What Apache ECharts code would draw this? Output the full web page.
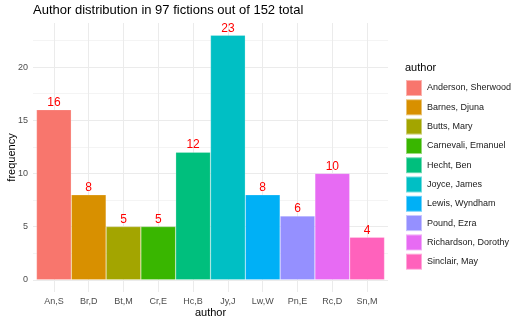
<!DOCTYPE html>
<html>
<head>
<meta charset="utf-8">
<script src="https://cdn.jsdelivr.net/npm/echarts@6/dist/echarts.min.js"></script>
<style>
  html, body { margin: 0; padding: 0; background: #ffffff; }
  #chart { width: 525px; height: 324px; }
</style>
</head>
<body>
<div id="chart"></div>
<script>
// Fiction counts per author
const authors = [
  'Anderson, Sherwood', 'Barnes, Djuna', 'Butts, Mary', 'Carnevali, Emanuel',
  'Hecht, Ben', 'Joyce, James', 'Lewis, Wyndham', 'Pound, Ezra',
  'Richardson, Dorothy', 'Sinclair, May'
];
const shortNames = ['An,S', 'Br,D', 'Bt,M', 'Cr,E', 'Hc,B', 'Jy,J', 'Lw,W', 'Pn,E', 'Rc,D', 'Sn,M'];
const counts = [16, 8, 5, 5, 12, 23, 8, 6, 10, 4];
const palette = ['#F8766D', '#D89000', '#A3A500', '#39B600', '#00BF7D',
                 '#00BFC4', '#00B0F6', '#9590FF', '#E76BF3', '#FF62BC'];
const yMajorTicks = [0, 5, 10, 15, 20];

const FONT = '"Liberation Sans", Arial, sans-serif';
const maxCount = Math.max(...counts);
const yPad = maxCount * 0.05;

function isNear(v, t) { return Math.abs(v - t) < 1e-6; }

const series = authors.map((name, i) => ({
  name: name,
  type: 'bar',
  data: [[i, counts[i]]],
  barWidth: '100%',
  barGap: '-100%',
  itemStyle: { color: palette[i], borderColor: 'rgba(255,255,255,0.45)', borderWidth: 0.5 },
  label: {
    show: true,
    position: 'top',
    distance: 1,
    color: '#ff0000',
    fontFamily: FONT,
    fontSize: 12,
    formatter: (p) => String(p.value[1])
  },
  emphasis: { disabled: true }
}));

const chart = echarts.init(document.getElementById('chart'), null, { renderer: 'canvas' });
chart.setOption({
  animation: false,
  backgroundColor: '#ffffff',
  title: [
    {
      text: 'Author distribution in 97 fictions out of 152 total',
      left: 33, top: 4, padding: 0,
      textStyle: { fontFamily: FONT, fontSize: 13, fontWeight: 'normal', color: '#000000' }
    },
    {
      text: 'author',
      left: 405, top: 62, padding: 0,
      textStyle: { fontFamily: FONT, fontSize: 11, fontWeight: 'normal', color: '#000000' }
    }
  ],
  legend: {
    data: authors,
    orient: 'vertical',
    left: 405, top: 79,
    padding: 0,
    itemWidth: 16, itemHeight: 16, itemGap: 1.3,
    icon: 'rect',
    selectedMode: false,
    textStyle: { fontFamily: FONT, fontSize: 9, color: '#1a1a1a' }
  },
  grid: { left: 33, right: 137, top: 23, bottom: 32, containLabel: false, outerBoundsMode: 'none' },
  xAxis: {
    type: 'value',
    min: -0.6,
    max: counts.length - 1 + 0.6,
    minInterval: 1, maxInterval: 1, splitNumber: 10,
    name: 'author',
    nameLocation: 'middle',
    nameGap: 15,
    nameMoveOverlap: false,
    nameTextStyle: { fontFamily: FONT, fontSize: 11, color: '#000000' },
    axisLine: { show: false },
    axisTick: { show: false },
    axisLabel: {
      margin: 5,
      fontFamily: FONT, fontSize: 9, color: '#4d4d4d',
      formatter: (v) => {
        const r = Math.round(v);
        return (isNear(v, r) && r >= 0 && r < shortNames.length) ? shortNames[r] : '';
      }
    },
    splitLine: { show: true, showMinLine: false, showMaxLine: false, lineStyle: { color: '#ebebeb', width: 1 } }
  },
  yAxis: {
    type: 'value',
    min: -yPad,
    max: maxCount + yPad,
    minInterval: 2.5, maxInterval: 2.5, splitNumber: 10,
    name: 'frequency',
    nameLocation: 'middle',
    nameRotate: 90,
    nameGap: 16,
    nameMoveOverlap: false,
    nameTextStyle: { fontFamily: FONT, fontSize: 11, color: '#000000' },
    axisLine: { show: false },
    axisTick: { show: false },
    axisLabel: {
      margin: 5,
      fontFamily: FONT, fontSize: 9, color: '#4d4d4d',
      formatter: (v) => {
        const hit = yMajorTicks.find(t => isNear(v, t));
        return hit === undefined ? '' : String(hit);
      }
    },
    splitLine: { show: true, showMinLine: false, showMaxLine: false, lineStyle: { color: ['#ebebeb', '#f4f4f4'], width: 1 } }
  },
  series: series
});
</script>
</body>
</html>
